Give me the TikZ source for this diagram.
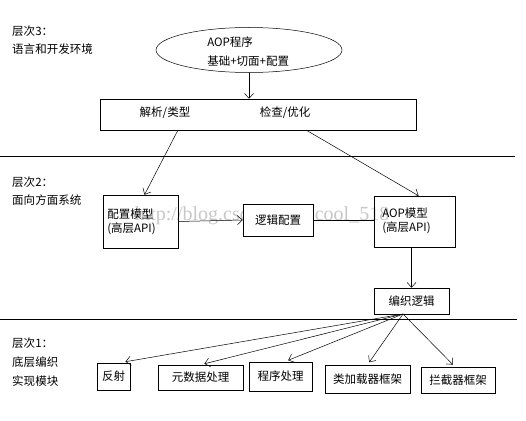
\documentclass[tikz,border=0pt]{standalone}
\usepackage{fontspec}
\setmainfont{Noto Sans CJK SC}
\newfontfamily\wmfont{Liberation Serif}
\usetikzlibrary{shapes.geometric,arrows.meta}

\tikzset{
	box/.style={draw, rectangle, inner sep=0pt},
	lbl/.style={anchor=west, inner sep=0pt},
	arr/.style={-{Straight Barb[length=5pt,width=9pt]}},
}

\begin{document}
\begin{tikzpicture}[x=1pt, y=1pt, yscale=-1, line width=0.5pt, font=\fontsize{11.5}{14}\selectfont]
	\useasboundingbox (0,0) rectangle (526,420);
	% watermark
	\node[text=black!22, font=\wmfont\fontsize{20}{20}\selectfont] (wm) at (262,216) {http://blog.csdn.net/leicool\_518};
	% layer labels
	\node[lbl] (l3a) at (12,31) {层次3：};
	\node[lbl] (l3b) at (12,49) {语言和开发环境};
	\node[lbl] (l2a) at (12,182) {层次2：};
	\node[lbl] (l2b) at (12,200) {面向方面系统};
	\node[lbl] (l1a) at (12,343) {层次1：};
	\node[lbl] (l1b) at (12,362) {底层编织};
	\node[lbl] (l1c) at (12,381) {实现模块};
	\draw (0,156)--(515,156);
	\draw (0,319)--(517,319);
	% level 3
	\node[draw, ellipse, minimum width=186, minimum height=45, inner sep=0pt] (prog) at (249,50) {};
	\node[lbl] (proga) at (207,42) {AOP程序};
	\node[lbl] (progb) at (207,61) {基础+切面+配置};
	\node[box, minimum width=316, minimum height=31] (parse) at (258,114.5) {};
	\node (jx) at (165,113) {解析/类型};
	\node (jc) at (285,113) {检查/优化};
	\coordinate (p1) at (178,130);
	\coordinate (p2) at (306,130);
	% level 2
	\node[box, minimum width=75, minimum height=53] (cfg) at (140.5,221.5) {};
	\node[lbl, align=left] (cfgt) at (107,222) {配置模型\\(高层API)};
	\node[box, fill=white, minimum width=70, minimum height=32] (logic) at (278,220) {逻辑配置};
	\node[box, minimum width=81, minimum height=51] (aop) at (414.5,221.5) {};
	\node[lbl, align=left] (aopt) at (382,221) {AOP模型\\(高层API)};
	\node[box, minimum width=75, minimum height=26] (weave) at (411.5,301) {编织逻辑};
	\coordinate (w) at (403,314);
	% level 1
	\node[box, minimum width=33, minimum height=27] (fs) at (113.5,376.5) {反射};
	\node[box, minimum width=85, minimum height=25] (ysj) at (200.5,377.5) {元数据处理};
	\node[box, minimum width=63, minimum height=29] (cx) at (280.5,376.5) {程序处理};
	\node[box, minimum width=85, minimum height=28] (ljz) at (367.5,379) {类加载器框架};
	\node[box, minimum width=74, minimum height=26] (ljq) at (458,380) {拦截器框架};
	% connectors
	\draw[arr] (prog.south)--(parse.north -| prog.south);
	\draw[arr] (p1)--([xshift=4pt]cfg.north);
	\draw[arr] (p2)--([xshift=4pt]aop.north);
	\draw[arr] (cfg.east)--(logic.west);
	\draw (logic.east)--(aop.west |- logic.east);
	\draw[arr] (aop.south -| weave.north)--(weave.north);
	\draw[arr, shorten >=6pt] (w)--([xshift=6pt]fs.north);
	\draw[arr, shorten >=4pt] (w)--(ysj.north);
	\draw[arr, shorten >=4pt] (w)--([xshift=4pt]cx.north);
	\draw[arr, shorten >=3pt] (w)--(ljz.north);
	\draw[arr, shorten >=3pt] (w)--([xshift=-3pt]ljq.north);
\end{tikzpicture}
\end{document}
